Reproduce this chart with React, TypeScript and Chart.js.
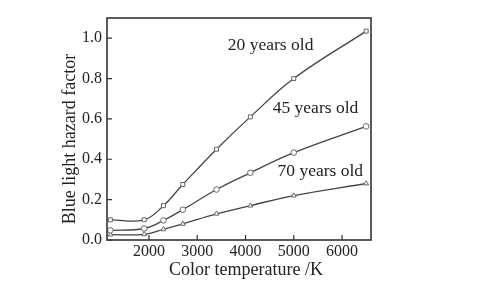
import React, { useEffect, useRef } from "react";
import { Chart, registerables } from "chart.js";

Chart.register(...registerables);

const temperatures = [1200, 1900, 2300, 2700, 3400, 4100, 5000, 6500];
const age20 = [0.1, 0.1, 0.17, 0.275, 0.45, 0.61, 0.8, 1.035];
const age45 = [0.048, 0.057, 0.097, 0.15, 0.25, 0.333, 0.433, 0.563];
const age70 = [0.027, 0.028, 0.053, 0.08, 0.13, 0.17, 0.22, 0.28];
const seriesNames = ["20 years old", "45 years old", "70 years old"];
const labelPos = [
  [4520, 0.965],
  [5450, 0.65],
  [5550, 0.34],
];
const xTicks = [2000, 3000, 4000, 5000, 6000];
const yTicks = [0, 0.2, 0.4, 0.6, 0.8, 1.0];
const xTitle = "Color temperature /K";
const yTitle = "Blue light hazard factor";

const FONT = "'Liberation Serif', 'Times New Roman', serif";
const INK = "#333";

const framePlugin = {
  id: "frame",
  afterDraw(chart: any) {
    const { ctx, chartArea: a, scales } = chart;
    ctx.save();
    ctx.strokeStyle = INK;
    ctx.lineWidth = 1.6;
    ctx.strokeRect(a.left, a.top, a.right - a.left, a.bottom - a.top);
    ctx.lineWidth = 1.2;
    ctx.beginPath();
    xTicks.forEach((t) => {
      const x = scales.x.getPixelForValue(t);
      ctx.moveTo(x, a.bottom);
      ctx.lineTo(x, a.bottom - 5);
    });
    yTicks.forEach((t) => {
      const y = scales.y.getPixelForValue(t);
      ctx.moveTo(a.left, y);
      ctx.lineTo(a.left + 5, y);
    });
    ctx.stroke();
    ctx.fillStyle = "#222";
    ctx.font = `17.5px ${FONT}`;
    ctx.textAlign = "center";
    ctx.textBaseline = "middle";
    seriesNames.forEach((n, i) => {
      ctx.fillText(n, scales.x.getPixelForValue(labelPos[i][0]), scales.y.getPixelForValue(labelPos[i][1]));
    });
    // axis titles
    ctx.font = `18px ${FONT}`;
    ctx.fillText(xTitle, (a.left + a.right) / 2 + 7, a.bottom + 30);
    ctx.translate(70, (a.top + a.bottom) / 2 + 10);
    ctx.rotate(-Math.PI / 2);
    ctx.fillText(yTitle, 0, 0);
    ctx.restore();
  },
};

export default function App() {
  const ref = useRef<HTMLCanvasElement>(null);
  useEffect(() => {
    const mk = (label: string, data: number[], style: any) => ({
      label,
      data: temperatures.map((t, i) => ({ x: t, y: data[i] })),
      borderColor: "#444",
      borderWidth: 1.3,
      pointStyle: style,
      pointRadius: 2.8,
      pointBorderWidth: 1,
      pointBorderColor: "#666",
      pointBackgroundColor: "#fff",
      tension: 0.4,
      cubicInterpolationMode: "default",
    });
    const chart = new Chart(ref.current!, {
      type: "line",
      data: {
        datasets: [
          mk(seriesNames[0], age20, "rect"),
          mk(seriesNames[1], age45, "circle"),
          mk(seriesNames[2], age70, "triangle"),
        ],
      },
      options: {
        animation: false,
        responsive: false,
        layout: { padding: { top: 18, right: 127, left: 0, bottom: 0 } },
        plugins: { legend: { display: false }, tooltip: { enabled: false } },
        scales: {
          x: {
            type: "linear",
            min: 1130,
            max: 6600,
            afterBuildTicks: (s: any) => {
              s.ticks = xTicks.map((v) => ({ value: v }));
            },
            afterFit: (s: any) => {
              s.height = 55;
            },
            grid: { display: false, drawTicks: false },
            border: { display: false },
            ticks: {
              color: "#222",
              font: { family: FONT, size: 16 },
              padding: 2,
              maxRotation: 0,
              callback: (v: any) => String(v),
            },
          },
          y: {
            type: "linear",
            min: 0,
            max: 1.1,
            afterBuildTicks: (s: any) => {
              s.ticks = yTicks.map((v) => ({ value: v }));
            },
            afterFit: (s: any) => {
              s.width = 107;
            },
            grid: { display: false, drawTicks: false },
            border: { display: false },
            ticks: {
              color: "#222",
              font: { family: FONT, size: 16 },
              padding: 5,
              callback: (v: any) => Number(v).toFixed(1),
            },
          },
        },
      },
      plugins: [framePlugin],
    } as any);
    return () => chart.destroy();
  }, []);
  return (
    <div style={{ position: "fixed", left: 0, top: 0, width: 498, height: 295, background: "#fff" }}>
      <canvas ref={ref} width={498} height={295} style={{ width: 498, height: 295 }} />
    </div>
  );
}
